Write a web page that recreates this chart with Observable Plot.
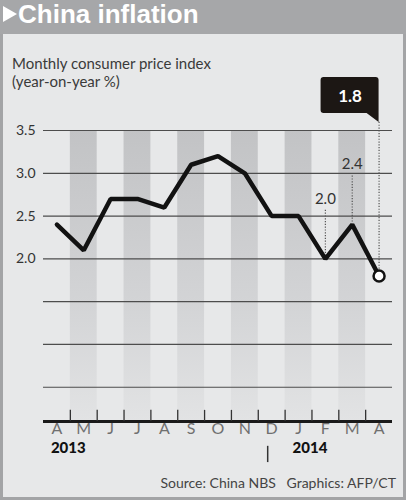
<!DOCTYPE html>
<html><head><meta charset="utf-8">
<script src="https://cdn.jsdelivr.net/npm/d3@7"></script>
<script src="https://cdn.jsdelivr.net/npm/@observablehq/plot@0.6"></script>
<style>
body{margin:0;background:#fff;}
#frame{position:relative;width:406px;height:500px;background:#e7e8e9;overflow:hidden;font-family:Lato,"Open Sans",sans-serif;}
#border{position:absolute;left:0;top:0;width:406px;height:500px;box-sizing:border-box;border:3px solid #a3a4a6;border-top:none;}
#header{position:absolute;left:0;top:0;width:406px;height:34px;background:#a6a7a9;}
#tri{position:absolute;left:3px;top:6px;width:0;height:0;border-left:14px solid #fff;border-top:8px solid transparent;border-bottom:8px solid transparent;}
#title{position:absolute;left:18px;top:1px;color:#fff;font:bold 26px/26px "Liberation Sans",Arial,sans-serif;white-space:nowrap;}
#sub{position:absolute;left:12px;top:54px;font-size:15px;line-height:18px;color:#3a3a3a;}
#source{position:absolute;right:10px;top:474px;font-size:14px;color:#444;white-space:pre;}
#chart{position:absolute;left:0;top:0;}
</style></head>
<body><div id="frame">
<div id="border"></div>
<div id="header"><div id="tri"></div><div id="title">China inflation</div></div>
<div id="sub">Monthly consumer price index<br>(year-on-year %)</div>
<div id="chart"></div>
<div id="source">Source: China NBS   Graphics: AFP/CT</div>
</div>
<script>
const months = ["2013-04","2013-05","2013-06","2013-07","2013-08","2013-09","2013-10","2013-11","2013-12","2014-01","2014-02","2014-03","2014-04"];
const monthLabels = ["A","M","J","J","A","S","O","N","D","J","F","M","A"];
const cpi = [2.4,2.1,2.7,2.7,2.6,3.1,3.2,3.0,2.5,2.5,2.0,2.4,1.8];
const yTicks = [2.0,2.5,3.0,3.5];
const gridValues = [0.5,1.0,1.5,2.0,2.5,3.0,3.5];
const yearMonths = ["2013-04","2014-01"];
const yearLabels = ["2013","2014"];
const calloutMonths = ["2014-02","2014-03"];
const calloutValues = [2.0,2.4];
const latestMonth = "2014-04";
const latestValue = 1.8;
const separatorMonth = "2013-12";
const yBase = 0.1, yTop = 3.5;

const data = months.map((m,i)=>({month:m,label:monthLabels[i],value:cpi[i]}));
const shaded = months.filter((d,i)=>i%2===1);
const years = yearMonths.map((m,i)=>({month:m,label:yearLabels[i]}));
const callouts = calloutMonths.map((m,i)=>({month:m,value:calloutValues[i],label:calloutValues[i].toFixed(1)}));
const latest = [{month:latestMonth,value:latestValue,label:latestValue.toFixed(1)}];

const W=406,H=500,mL=43,mR=14,mT=130,mB=79;
const bw=(W-mL-mR)/months.length;
const ns="http://www.w3.org/2000/svg";

function gradientDefs(){
  const defs=document.createElementNS(ns,"defs");
  defs.innerHTML=`<linearGradient id="stripeGrad" x1="0" y1="0" x2="0" y2="1"><stop offset="0" stop-color="#c2c3c5"/><stop offset="0.6" stop-color="#d3d4d6"/><stop offset="1" stop-color="#e2e3e4"/></linearGradient>`;
  return defs;
}
function calloutBox(index, scales){
  const g=document.createElementNS(ns,"g");
  const r=scales.x(latestMonth)+bw/2;
  const top=scales.y(yTop)-53, bot=scales.y(yTop)-17, l=r-58;
  const p=document.createElementNS(ns,"path");
  p.setAttribute("d",`M${l+3},${top}H${r-3}Q${r},${top} ${r},${top+3}V${bot+9}L${r-12},${bot}H${l+3}Q${l},${bot} ${l},${bot-3}V${top+3}Q${l},${top} ${l+3},${top}Z`);
  p.setAttribute("fill","#1c1714");
  g.appendChild(p);
  return g;
}

const chart = Plot.plot({
  width:W,height:H,marginLeft:mL,marginRight:mR,marginTop:mT,marginBottom:mB,
  style:{background:"transparent",fontFamily:"Lato, 'Open Sans', sans-serif",overflow:"visible"},
  x:{type:"band",domain:months,padding:0,round:false,axis:null},
  y:{domain:[yBase,yTop],axis:null},
  marks:[
    gradientDefs,
    Plot.barY(shaded,{x:d=>d,y1:yBase,y2:yTop,fill:"url(#stripeGrad)"}),
    Plot.ruleY(gridValues,{stroke:"#4d4d4d",strokeWidth:1.2}),
    Plot.ruleY([yBase],{stroke:"#1a1a1a",strokeWidth:3}),
    Plot.ruleX(months.slice(1),{x:d=>d,y1:yBase,y2:yBase+0.13,dx:-bw/2,stroke:"#333",strokeWidth:1.3}),
    Plot.axisY(yTicks,{tickSize:0,tickPadding:8,tickFormat:d=>d.toFixed(1),fontSize:14,fill:"#333",label:null}),
    Plot.ruleX(callouts,{x:"month",y1:d=>d.value+0.03,y2:d=>d.value+0.57,stroke:"#555",strokeDasharray:"1.2,1.6",strokeWidth:1.2}),
    Plot.ruleX(latest,{x:"month",y1:d=>d.value+0.08,y2:yTop+0.1,stroke:"#555",strokeDasharray:"1.2,1.6",strokeWidth:1.2}),
    Plot.line(data,{x:"month",y:"value",stroke:"#121212",strokeWidth:4.5,strokeLinejoin:"miter"}),
    Plot.dot(latest,{x:"month",y:"value",r:5.5,fill:"white",stroke:"#121212",strokeWidth:2.5}),
    Plot.text(callouts,{x:"month",y:"value",text:"label",dy:-60,fontSize:15,fill:"#333"}),
    calloutBox,
    Plot.text(latest,{x:"month",y:()=>yTop,text:"label",dy:-34,dx:-29,fontSize:17,fontWeight:"bold",fill:"white"}),
    Plot.text(data,{x:"month",text:"label",frameAnchor:"bottom",dy:12,fontSize:16,fill:"#707070"}),
    Plot.text(years,{x:"month",text:"label",frameAnchor:"bottom",dy:31,dx:-6,textAnchor:"start",fontSize:15,fontWeight:"900",fill:"#111"}),
    Plot.ruleX([separatorMonth],{x:d=>d,y1:yBase-0.29,y2:yBase-0.48,dx:-4,stroke:"#333",strokeWidth:1.5})
  ]
});
document.getElementById("chart").appendChild(chart);
</script>
</body></html>
